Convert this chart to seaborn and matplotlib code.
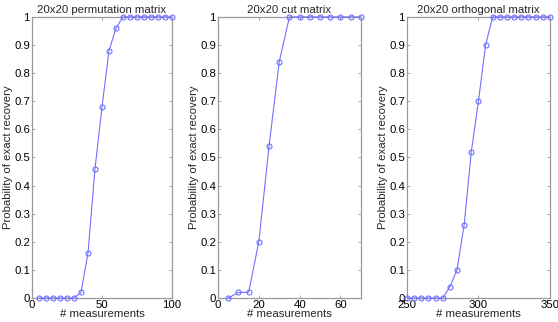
import numpy as np
import pandas as pd
import seaborn as sns
import matplotlib
matplotlib.use("Agg")
import matplotlib.pyplot as plt

# ============================
# DATA
# ============================
perm_x = [5, 10, 15, 20, 25, 30, 35, 40, 45, 50, 55, 60, 65, 70, 75, 80, 85, 90, 95, 100]
perm_y = [0, 0, 0, 0, 0, 0, 0.02, 0.16, 0.46, 0.68, 0.88, 0.96, 1, 1, 1, 1, 1, 1, 1, 1]

cut_x = [5, 10, 15, 20, 25, 30, 35, 40, 45, 50, 55, 60, 65, 70]
cut_y = [0, 0.02, 0.02, 0.20, 0.54, 0.84, 1, 1, 1, 1, 1, 1, 1, 1]

orth_x = [250, 255, 260, 265, 270, 275, 280, 285, 290, 295, 300, 305, 310,
          315, 320, 325, 330, 335, 340, 345, 350]
orth_y = [0, 0, 0, 0, 0, 0, 0.04, 0.10, 0.26, 0.52, 0.70, 0.90, 1,
          1, 1, 1, 1, 1, 1, 1, 1]

titles = ["20x20 permutation matrix", "20x20 cut matrix", "20x20 orthogonal matrix"]
xlims = [(0, 100), (0, 70), (250, 350)]
xticks = [[0, 50, 100], [0, 20, 40, 60], [250, 300, 350]]
yticks = [0, 0.1, 0.2, 0.3, 0.4, 0.5, 0.6, 0.7, 0.8, 0.9, 1]
ytick_labels = ["0", "0.1", "0.2", "0.3", "0.4", "0.5", "0.6", "0.7", "0.8", "0.9", "1"]

LINE_COLOR = "#7070ff"
EDGE_GREY = "#9a9a9a"
FS = 8.2

sns.set_style("ticks")
plt.rcParams["font.family"] = ["Liberation Sans", "DejaVu Sans"]

fig = plt.figure(figsize=(5.58, 3.22), dpi=100)

lefts = [0.0573, 0.3907, 0.7294]
widths = [0.251, 0.256, 0.256]
bottom, height = 0.0745, 0.873

series = [(perm_x, perm_y), (cut_x, cut_y), (orth_x, orth_y)]

for i, (xs, ys) in enumerate(series):
    ax = fig.add_axes([lefts[i], bottom, widths[i], height])
    df = pd.DataFrame({"m": xs, "p": ys})
    sns.lineplot(
        data=df, x="m", y="p", ax=ax,
        color=LINE_COLOR, linewidth=0.8,
        marker="o", markersize=3.6,
        markerfacecolor="none", markeredgecolor=LINE_COLOR, markeredgewidth=0.8,
        clip_on=False, zorder=3,
    )
    ax.set_xlim(*xlims[i])
    ax.set_ylim(0, 1)
    ax.set_xticks(xticks[i])
    ax.set_yticks(yticks)
    ax.set_yticklabels(ytick_labels)
    ax.tick_params(direction="in", length=2.5, width=0.6, colors=EDGE_GREY,
                   labelcolor="black", labelsize=FS, pad=1.5,
                   top=True, right=True)
    for s in ax.spines.values():
        s.set_visible(True)
        s.set_color(EDGE_GREY)
        s.set_linewidth(0.9)
    ax.set_title(titles[i], fontsize=FS, pad=3)
    ax.set_xlabel("# measurements", fontsize=FS, labelpad=-1)
    ax.set_ylabel("Probability of exact recovery", fontsize=FS, labelpad=1)

fig.savefig("out.png", dpi=100)
plt.close(fig)
